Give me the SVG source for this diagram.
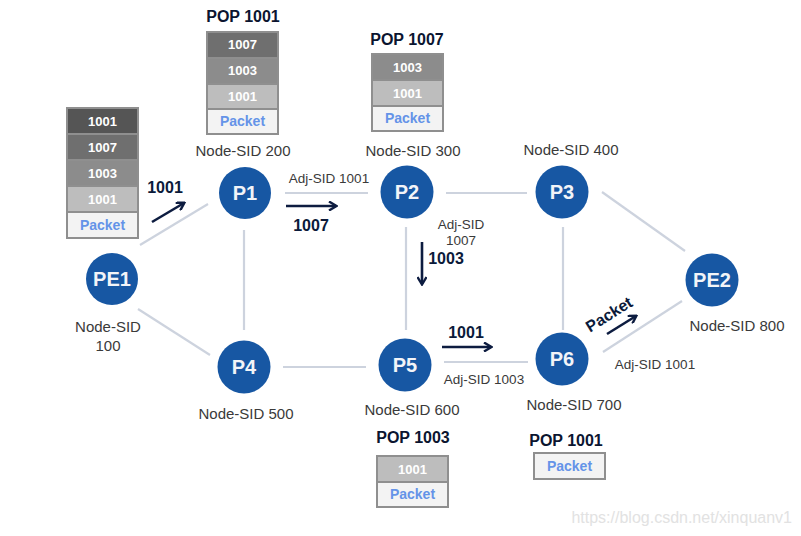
<svg xmlns="http://www.w3.org/2000/svg" width="801" height="536" viewBox="0 0 801 536">
<style>
.node circle{fill:#1757a3}
.nl{font-family:"Liberation Sans",Arial,sans-serif;font-weight:bold;font-size:20px;fill:#f2f4f8;text-anchor:middle}
.sid{font-family:"Liberation Sans",Arial,sans-serif;font-size:15px;fill:#3a3a3a;text-anchor:middle}
.adj{font-family:"Liberation Sans",Arial,sans-serif;font-size:13.5px;fill:#3a3a3a;text-anchor:middle}
.pop{font-family:"Liberation Sans",Arial,sans-serif;font-weight:bold;font-size:16px;fill:#0b1530;text-anchor:middle}
.al{font-family:"Liberation Sans",Arial,sans-serif;font-weight:bold;font-size:16px;fill:#0b1a3a;text-anchor:middle}
.link{stroke:#cdd3de;stroke-width:2.2;fill:none}
.arr{stroke:#0d1c40;stroke-width:2.6;fill:none;marker-end:url(#ah)}
.lbl{font-family:"Liberation Sans",Arial,sans-serif;font-weight:bold;font-size:13px;fill:#ffffff;text-anchor:middle}
.pk{font-family:"Liberation Sans",Arial,sans-serif;font-weight:bold;font-size:14px;fill:#6593e8;text-anchor:middle}
.stk rect{stroke:#8f8f8f;stroke-width:2}
.c1{fill:#555555}.c2{fill:#6f6f6f}.c3{fill:#8c8c8c}.c4{fill:#bdbdbd}.c5{fill:#f3f3f3}
</style>
<defs>
<marker id="ah" markerWidth="10" markerHeight="10" refX="8" refY="5" orient="auto" markerUnits="userSpaceOnUse">
<path d="M1,0.5 L8.5,5 L1,9.5" fill="none" stroke="#0d1c40" stroke-width="2.4"/>
</marker>
</defs>
<g id="connectors">
<line class="link" x1="140" y1="245" x2="208" y2="204"/>
<line class="link" x1="138" y1="309" x2="210" y2="355"/>
<line class="link" x1="244" y1="230" x2="244" y2="330"/>
<line class="link" x1="283" y1="367" x2="366" y2="367"/>
<line class="link" x1="285" y1="193" x2="368" y2="193"/>
<line class="link" x1="446" y1="193" x2="527" y2="193"/>
<line class="link" x1="406" y1="227" x2="406" y2="330"/>
<line class="link" x1="563" y1="227" x2="563" y2="330"/>
<line class="link" x1="602" y1="192" x2="685" y2="251"/>
<line class="link" x1="603" y1="352" x2="682" y2="301"/>
<line class="link" x1="444" y1="362" x2="528" y2="362"/>
</g>
<g id="flow-arrows">
<line class="arr" x1="152" y1="222" x2="184" y2="203"/>
<text class="al" x="165" y="193">1001</text>
<line class="arr" x1="286" y1="206" x2="336" y2="206"/>
<text class="al" x="311" y="231">1007</text>
<line class="arr" x1="422" y1="242" x2="422" y2="284"/>
<text class="al" x="446" y="264">1003</text>
<line class="arr" x1="442" y1="347" x2="491" y2="347"/>
<text class="al" x="466" y="338">1001</text>
<line class="arr" x1="607" y1="334" x2="636" y2="316"/>
<text class="al" font-size="18" transform="translate(612 319) rotate(-32)" x="0" y="0">Packet</text>
</g>
<g id="adj-labels">
<text class="adj" x="329" y="183">Adj-SID 1001</text>
<text class="adj" font-size="13" x="461" y="229">Adj-SID</text>
<text class="adj" font-size="13" x="461" y="245">1007</text>
<text class="adj" x="484" y="384">Adj-SID 1003</text>
<text class="adj" x="655" y="369">Adj-SID 1001</text>
</g>
<g id="PE1" class="node">
<circle cx="112" cy="279" r="26"/>
<text class="nl" x="112" y="286">PE1</text>
<text class="sid" x="108" y="332">Node-SID</text>
<text class="sid" x="108" y="351">100</text>
</g>
<g id="P1" class="node">
<circle cx="245" cy="193" r="26"/>
<text class="nl" x="245" y="200">P1</text>
<text class="sid" x="243" y="156">Node-SID 200</text>
</g>
<g id="P2" class="node">
<circle cx="407" cy="192" r="26.5"/>
<text class="nl" x="407" y="199">P2</text>
<text class="sid" x="413" y="156">Node-SID 300</text>
</g>
<g id="P3" class="node">
<circle cx="562" cy="192" r="26.5"/>
<text class="nl" x="562" y="199">P3</text>
<text class="sid" x="571" y="155">Node-SID 400</text>
</g>
<g id="PE2" class="node">
<circle cx="712" cy="280" r="26.5"/>
<text class="nl" x="712" y="287">PE2</text>
<text class="sid" x="737" y="331">Node-SID 800</text>
</g>
<g id="P4" class="node">
<circle cx="244" cy="367" r="26.5"/>
<text class="nl" x="244" y="374">P4</text>
<text class="sid" x="246" y="419">Node-SID 500</text>
</g>
<g id="P5" class="node">
<circle cx="405" cy="365" r="26.5"/>
<text class="nl" x="405" y="372">P5</text>
<text class="sid" x="412" y="415">Node-SID 600</text>
</g>
<g id="P6" class="node">
<circle cx="562" cy="359" r="26.5"/>
<text class="nl" x="562" y="366">P6</text>
<text class="sid" x="574" y="410">Node-SID 700</text>
</g>
<g id="stack-PE1" class="stk">
<rect class="c1" x="67" y="108" width="71" height="26"/>
<rect class="c2" x="67" y="134" width="71" height="26"/>
<rect class="c3" x="67" y="160" width="71" height="26"/>
<rect class="c4" x="67" y="186" width="71" height="26"/>
<rect class="c5" x="67" y="212" width="71" height="26"/>
<text class="lbl" x="102.5" y="126">1001</text>
<text class="lbl" x="102.5" y="152">1007</text>
<text class="lbl" x="102.5" y="178">1003</text>
<text class="lbl" x="102.5" y="204">1001</text>
<text class="pk" x="102.5" y="230">Packet</text>
</g>
<g id="stack-P1" class="stk">
<text class="pop" x="243" y="22">POP 1001</text>
<rect class="c2" x="207" y="32" width="71" height="26"/>
<rect class="c3" x="207" y="58" width="71" height="26"/>
<rect class="c4" x="207" y="84" width="71" height="25"/>
<rect class="c5" x="207" y="109" width="71" height="25"/>
<text class="lbl" x="242.5" y="49">1007</text>
<text class="lbl" x="242.5" y="75">1003</text>
<text class="lbl" x="242.5" y="101">1001</text>
<text class="pk" x="242.5" y="126">Packet</text>
</g>
<g id="stack-P2" class="stk">
<text class="pop" x="407" y="45">POP 1007</text>
<rect class="c3" x="372" y="54" width="71" height="26"/>
<rect class="c4" x="372" y="80" width="71" height="26"/>
<rect class="c5" x="372" y="106" width="71" height="25"/>
<text class="lbl" x="407.5" y="72">1003</text>
<text class="lbl" x="407.5" y="98">1001</text>
<text class="pk" x="407.5" y="123">Packet</text>
</g>
<g id="stack-P5" class="stk">
<text class="pop" x="413" y="443">POP 1003</text>
<rect class="c4" x="377" y="456" width="71" height="26"/>
<rect class="c5" x="377" y="482" width="71" height="25"/>
<text class="lbl" x="412.5" y="474">1001</text>
<text class="pk" x="412.5" y="499">Packet</text>
</g>
<g id="stack-P6" class="stk">
<text class="pop" x="566" y="446">POP 1001</text>
<rect class="c5" x="534" y="453" width="71" height="26"/>
<text class="pk" x="569.5" y="471">Packet</text>
</g>
<text x="792" y="523" text-anchor="end" font-family="'Liberation Sans',Arial,sans-serif" font-size="16" fill="#e2e2e2">https://blog.csdn.net/xinquanv1</text>
</svg>
